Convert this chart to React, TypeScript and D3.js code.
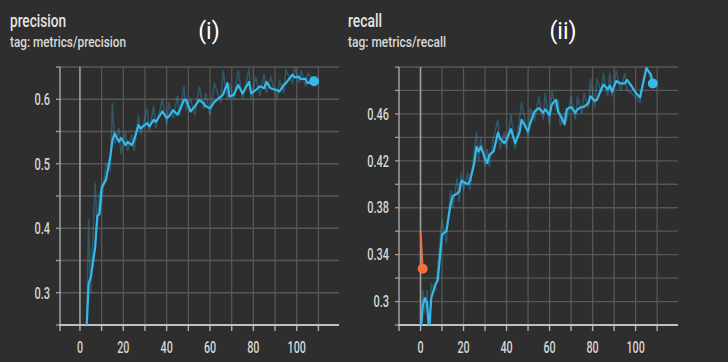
import React from "react";
import * as d3 from "d3";

// ---------- DATA ----------
const precSteps = [3, 4, 5, 7, 8, 9, 10, 12, 14, 15, 16, 18, 19, 21, 22, 24, 25, 27, 28, 31, 32, 34, 35, 38, 40, 41, 43, 45, 46, 48, 49, 51, 53, 55, 57, 58, 60, 62, 65, 66, 68, 69, 71, 73, 75, 78, 79, 81, 83, 85, 86, 88, 91, 92, 94, 95, 98, 99, 101, 102, 104, 105, 108];
const precSmooth = [0.24, 0.314, 0.324, 0.37, 0.419, 0.422, 0.463, 0.475, 0.511, 0.537, 0.547, 0.534, 0.54, 0.529, 0.534, 0.529, 0.537, 0.56, 0.555, 0.563, 0.558, 0.568, 0.565, 0.581, 0.571, 0.573, 0.583, 0.576, 0.583, 0.599, 0.599, 0.581, 0.589, 0.599, 0.594, 0.589, 0.586, 0.596, 0.604, 0.607, 0.625, 0.604, 0.607, 0.622, 0.609, 0.627, 0.609, 0.614, 0.62, 0.617, 0.627, 0.617, 0.614, 0.612, 0.622, 0.625, 0.638, 0.634, 0.635, 0.631, 0.632, 0.625, 0.628];
const precRaw = [0.22, 0.415, 0.3, 0.47, 0.4, 0.455, 0.44, 0.5, 0.49, 0.594, 0.53, 0.555, 0.515, 0.55, 0.52, 0.545, 0.52, 0.575, 0.545, 0.585, 0.55, 0.59, 0.555, 0.6, 0.56, 0.595, 0.57, 0.605, 0.575, 0.62, 0.585, 0.6, 0.575, 0.62, 0.585, 0.61, 0.575, 0.625, 0.595, 0.645, 0.6, 0.625, 0.6, 0.645, 0.6, 0.648, 0.6, 0.635, 0.605, 0.64, 0.61, 0.635, 0.6, 0.63, 0.61, 0.645, 0.625, 0.65, 0.625, 0.645, 0.62, 0.64, 0.63];

const recSteps = [0, 1, 2, 3, 4, 5, 7, 8, 10, 12, 14, 15, 17, 18, 19, 20, 22, 23, 25, 26, 27, 28, 30, 31, 32, 34, 36, 37, 39, 40, 42, 44, 46, 47, 50, 51, 53, 55, 57, 58, 60, 61, 63, 64, 65, 67, 68, 70, 72, 73, 75, 76, 78, 79, 81, 82, 84, 85, 87, 88, 89, 91, 93, 95, 96, 98, 100, 102, 105, 107, 108];
const recSmooth = [0.27, 0.296, 0.303, 0.299, 0.275, 0.303, 0.315, 0.318, 0.357, 0.36, 0.383, 0.39, 0.392, 0.394, 0.403, 0.402, 0.4, 0.403, 0.418, 0.432, 0.428, 0.432, 0.422, 0.418, 0.425, 0.428, 0.444, 0.439, 0.435, 0.438, 0.447, 0.435, 0.444, 0.455, 0.445, 0.452, 0.462, 0.465, 0.461, 0.464, 0.459, 0.468, 0.472, 0.462, 0.459, 0.451, 0.464, 0.466, 0.461, 0.464, 0.466, 0.466, 0.469, 0.475, 0.471, 0.472, 0.481, 0.485, 0.481, 0.484, 0.479, 0.488, 0.486, 0.486, 0.489, 0.484, 0.478, 0.474, 0.499, 0.494, 0.486];
const recRaw = [0.26, 0.31, 0.29, 0.31, 0.27, 0.315, 0.31, 0.33, 0.37, 0.35, 0.395, 0.38, 0.405, 0.385, 0.41, 0.395, 0.41, 0.395, 0.43, 0.445, 0.42, 0.44, 0.415, 0.43, 0.415, 0.44, 0.455, 0.43, 0.445, 0.43, 0.46, 0.43, 0.455, 0.47, 0.44, 0.465, 0.455, 0.475, 0.455, 0.478, 0.45, 0.48, 0.463, 0.472, 0.45, 0.46, 0.455, 0.475, 0.455, 0.475, 0.46, 0.478, 0.465, 0.49, 0.465, 0.49, 0.478, 0.495, 0.475, 0.495, 0.475, 0.497, 0.48, 0.495, 0.48, 0.478, 0.474, 0.47, 0.5, 0.49, 0.484];

const orangeSteps = [0, 1];
const orangeValues = [0.36, 0.328];

const xGridTicks = [0, 10, 20, 30, 40, 50, 60, 70, 80, 90, 100, 110];
const xLabelTicks = [0, 20, 40, 60, 80, 100];
const precYGrid = [0.25, 0.3, 0.35, 0.4, 0.45, 0.5, 0.55, 0.6, 0.65];
const precYLabels = [0.3, 0.4, 0.5, 0.6];
const recYGrid = [0.28, 0.3, 0.32, 0.34, 0.36, 0.38, 0.4, 0.42, 0.44, 0.46, 0.48, 0.5];
const recYLabels = [0.3, 0.34, 0.38, 0.42, 0.46];

// ---------- STYLE ----------
const BG = "#2e2e2e";
const BLUE = "#35b9ec";
const ORANGE = "#f2703f";
const FONT = "Roboto, 'Liberation Sans', sans-serif";

const fmt = (v: number) => String(+v.toFixed(2));
const numWidth = (s: string) => {
  let w = 0;
  for (const c of s) w += c === "." ? 3.4 : 6.1;
  return w;
};

type PanelProps = {
  id: string;
  left: number;
  right: number;
  xDomain: [number, number];
  yDomain: [number, number];
  yGrid: number[];
  yLabels: number[];
  steps: number[];
  smooth: number[];
  raw: number[];
  title: string;
  titleLen: number;
  tag: string;
  tagLen: number;
  titleX: number;
  roman: string;
  romanX: number;
  extra?: { steps: number[]; values: number[] };
};

const TOP = 67;
const BOTTOM = 325;

function Panel(p: PanelProps) {
  const x = d3.scaleLinear().domain(p.xDomain).range([p.left, p.right]);
  const y = d3.scaleLinear().domain(p.yDomain).range([BOTTOM, TOP]);
  const line = d3
    .line<[number, number]>()
    .x((d) => x(d[0]))
    .y((d) => y(d[1]));
  const smoothPts = p.steps.map((s, i) => [s, p.smooth[i]] as [number, number]);
  const rawPts = p.steps.map((s, i) => [s, p.raw[i]] as [number, number]);
  const last = smoothPts[smoothPts.length - 1];
  const clipId = "clip-" + p.id;
  return (
    <g>
      <defs>
        <clipPath id={clipId}>
          <rect x={p.left} y={TOP} width={p.right - p.left} height={BOTTOM - TOP} />
        </clipPath>
      </defs>
      {/* titles */}
      <text x={p.titleX} y={27} fill="#e4e4e4" fontFamily={FONT} fontSize={19} fontWeight={500} textLength={p.titleLen} lengthAdjust="spacingAndGlyphs">
        {p.title}
      </text>
      <text x={p.titleX} y={47} fill="#d8d8d8" fontFamily={FONT} fontSize={14} fontWeight={500} textLength={p.tagLen} lengthAdjust="spacingAndGlyphs">
        {p.tag}
      </text>
      <text x={p.romanX} y={39} fill="#ffffff" fontFamily={FONT} fontSize={23} textAnchor="middle">
        {p.roman}
      </text>
      {/* horizontal grid */}
      {p.yGrid.map((v) => (
        <g key={"hy" + v}>
          <line x1={p.left} x2={p.right} y1={y(v)} y2={y(v)} stroke="#575757" strokeWidth={1.3} />
          <line x1={p.left - 4} x2={p.left} y1={y(v)} y2={y(v)} stroke="#a0a0a0" strokeWidth={1.3} />
        </g>
      ))}
      {/* vertical grid */}
      {xGridTicks.map((t) => (
        <g key={"vx" + t}>
          <line x1={x(t)} x2={x(t)} y1={TOP} y2={BOTTOM} stroke={t === 0 ? "#a0a0a0" : "#575757"} strokeWidth={t === 0 ? 1.6 : 1.3} />
          <line x1={x(t)} x2={x(t)} y1={BOTTOM} y2={BOTTOM + 6} stroke="#b0b0b0" strokeWidth={1.4} />
        </g>
      ))}
      <line x1={p.left} x2={p.left} y1={BOTTOM} y2={BOTTOM + 6} stroke="#b0b0b0" strokeWidth={1.4} />
      {/* axes */}
      <line x1={p.left} x2={p.left} y1={TOP} y2={BOTTOM} stroke="#a8a8a8" strokeWidth={1.4} />
      <line x1={p.left - 1} x2={p.right} y1={BOTTOM} y2={BOTTOM} stroke="#c0c0c0" strokeWidth={2.2} />
      {/* y labels */}
      {p.yLabels.map((v) => {
        const s = fmt(v);
        return (
          <text key={"yl" + v} x={p.left - 10 - numWidth(s)} y={y(v)} dy="0.36em" fill="#d6d6d6" fontFamily={FONT} fontSize={16} fontWeight={500} textLength={numWidth(s)} lengthAdjust="spacingAndGlyphs">
            {s}
          </text>
        );
      })}
      {/* x labels */}
      {xLabelTicks.map((t) => {
        const s = String(t);
        return (
          <text key={"xl" + t} x={x(t) - numWidth(s) / 2} y={353} fill="#d6d6d6" fontFamily={FONT} fontSize={16} fontWeight={500} textLength={numWidth(s)} lengthAdjust="spacingAndGlyphs">
            {s}
          </text>
        );
      })}
      {/* data */}
      <g clipPath={`url(#${clipId})`}>
        <path d={line(rawPts) || ""} fill="none" stroke={BLUE} strokeOpacity={0.28} strokeWidth={1.6} />
        <path d={line(smoothPts) || ""} fill="none" stroke={BLUE} strokeWidth={2.2} strokeLinejoin="round" />
        {p.extra && (
          <path
            d={line(p.extra.steps.map((s, i) => [s, p.extra!.values[i]] as [number, number])) || ""}
            fill="none"
            stroke={ORANGE}
            strokeWidth={2}
          />
        )}
      </g>
      <circle cx={x(last[0])} cy={y(last[1])} r={5} fill={BLUE} />
      {p.extra && (
        <circle
          cx={x(p.extra.steps[p.extra.steps.length - 1])}
          cy={y(p.extra.values[p.extra.values.length - 1])}
          r={5}
          fill={ORANGE}
        />
      )}
    </g>
  );
}

export default function App() {
  return (
    <svg width={728} height={362} style={{ position: "absolute", left: 0, top: 0, display: "block" }}>
      <rect x={0} y={0} width={728} height={362} fill={BG} />
      <Panel
        id="prec"
        left={60}
        right={339}
        xDomain={[-9.2, 119.5]}
        yDomain={[0.25, 0.65]}
        yGrid={precYGrid}
        yLabels={precYLabels}
        steps={precSteps}
        smooth={precSmooth}
        raw={precRaw}
        title="precision"
        titleLen={56}
        tag="tag: metrics/precision"
        tagLen={116}
        titleX={10}
        roman="(i)"
        romanX={209}
      />
      <Panel
        id="rec"
        left={399}
        right={678}
        xDomain={[-10, 119.7]}
        yDomain={[0.28, 0.5]}
        yGrid={recYGrid}
        yLabels={recYLabels}
        steps={recSteps}
        smooth={recSmooth}
        raw={recRaw}
        title="recall"
        titleLen={34}
        tag="tag: metrics/recall"
        tagLen={98}
        titleX={348}
        roman="(ii)"
        romanX={563}
        extra={{ steps: orangeSteps, values: orangeValues }}
      />
    </svg>
  );
}
